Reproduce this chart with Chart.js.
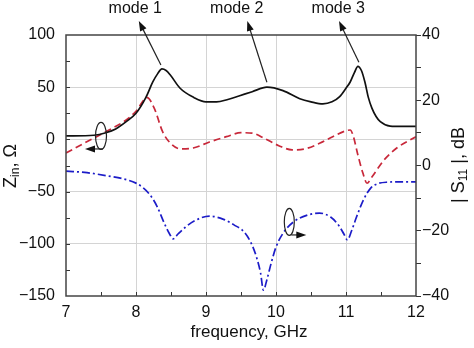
<!DOCTYPE html>
<html>
<head>
<meta charset="utf-8">
<script src="https://cdn.jsdelivr.net/npm/chart.js@4.4.0/dist/chart.umd.min.js"></script>
<style>
html, body { margin: 0; padding: 0; background: #fff; }
</style>
</head>
<body>
<canvas id="myChart" width="474" height="348"></canvas>
<script>
// |Zin| (left axis, Ohm)
const zinFreq = [7.0, 7.4, 7.57, 7.71, 7.86, 8.0, 8.14, 8.24, 8.31, 8.37, 8.43, 8.49, 8.63, 8.83, 9.0, 9.15, 9.3, 9.47, 9.66, 9.87, 10.1, 10.34, 10.5, 10.67, 10.8, 10.91, 11.0, 11.06, 11.12, 11.17, 11.22, 11.27, 11.32, 11.37, 11.43, 11.49, 11.63, 11.8, 12.0];
const zinAbs = [3.3, 4, 6.4, 10, 17, 25, 40, 55, 63, 67.5, 66, 61.7, 49, 40, 36, 36, 38, 41.6, 45.7, 50, 46.7, 39, 36, 34, 36, 41, 49, 55, 64, 70, 66, 55, 40, 30, 22, 17, 12.8, 12.5, 12.5];

// second Zin curve (red dashed, left axis)
const reFreq = [7.0, 7.29, 7.57, 7.86, 8.0, 8.16, 8.26, 8.38, 8.49, 8.63, 8.83, 9.05, 9.29, 9.5, 9.66, 9.85, 10.04, 10.23, 10.42, 10.63, 10.81, 11.0, 11.06, 11.1, 11.17, 11.24, 11.3, 11.37, 11.54, 11.73, 12.0];
const zinRe = [-13, -2.5, 7.4, 18.6, 27, 40, 30, 7.4, -3.5, -9, -8, -2.5, 2.6, 6.4, 6, 0.4, -6, -10, -9, -3.5, 2.6, 8.3, 9, 4, -15, -32, -42, -36, -20, -8, 2.6];

// |S11| (right axis, dB)
const sFreq = [7.0, 7.3, 7.6, 7.8, 8.0, 8.1, 8.2, 8.3, 8.4, 8.48, 8.53, 8.6, 8.7, 8.85, 9.05, 9.25, 9.4, 9.55, 9.65, 9.72, 9.78, 9.82, 9.87, 9.93, 10.0, 10.1, 10.25, 10.45, 10.62, 10.78, 10.9, 10.97, 11.02, 11.08, 11.15, 11.25, 11.35, 11.45, 11.6, 11.8, 12.0];
const s11 = [-1.7, -2.2, -3.2, -4.0, -5.4, -6.8, -9, -12.5, -17.5, -21, -22.5, -21, -19, -16.8, -15.5, -16.5, -18.2, -20.5, -24, -28, -33, -38.2, -35, -30, -25, -20.8, -17.3, -15.2, -14.6, -15.8, -18.5, -21, -22.8, -20, -15.8, -10.5, -7, -5.6, -5.1, -5, -5];

const modeNames = ['mode 1', 'mode 2', 'mode 3'];
const modeFreq = [8.37, 9.87, 11.17];

const pts = (xs, ys) => xs.map((x, i) => ({ x: x, y: ys[i] }));
const minus = (v) => String(v).replace('-', '\u2212');

Chart.defaults.font.family = '"Liberation Sans", Arial, sans-serif';
Chart.defaults.font.size = 16;
Chart.defaults.color = '#111';

function arrow(ctx, x1, y1, x2, y2) {
    const a = Math.atan2(y2 - y1, x2 - x1);
    ctx.beginPath();
    ctx.moveTo(x1, y1);
    ctx.lineTo(x2 - 6 * Math.cos(a), y2 - 6 * Math.sin(a));
    ctx.stroke();
    ctx.beginPath();
    ctx.moveTo(x2, y2);
    ctx.lineTo(x2 - 10 * Math.cos(a) + 3.5 * Math.sin(a), y2 - 10 * Math.sin(a) - 3.5 * Math.cos(a));
    ctx.lineTo(x2 - 10 * Math.cos(a) - 3.5 * Math.sin(a), y2 - 10 * Math.sin(a) + 3.5 * Math.cos(a));
    ctx.closePath();
    ctx.fill();
}

// rotated axis title with subscripts
function richText(ctx, parts, cx, cy) {
    ctx.save();
    ctx.translate(cx, cy);
    ctx.rotate(-Math.PI / 2);
    ctx.textBaseline = 'middle';
    ctx.textAlign = 'left';
    let w = 0;
    parts.forEach(p => {
        ctx.font = (p.sub ? 12 : 18) + 'px "Liberation Sans", Arial, sans-serif';
        w += ctx.measureText(p.t).width;
    });
    let x = -w / 2;
    parts.forEach(p => {
        ctx.font = (p.sub ? 12 : 18) + 'px "Liberation Sans", Arial, sans-serif';
        ctx.fillText(p.t, x, p.sub ? 5 : 0);
        x += ctx.measureText(p.t).width;
    });
    ctx.restore();
}

const decor = {
    id: 'decor',
    afterDatasetsDraw(chart) {
        const ctx = chart.ctx;
        const a = chart.chartArea;
        const xs = chart.scales.x, yl = chart.scales.y, yr = chart.scales.y2;
        ctx.save();
        // inner ticks
        ctx.strokeStyle = '#333';
        ctx.lineWidth = 1;
        for (let v = 7.5; v < 12; v += 0.5) {
            const px = Math.round(xs.getPixelForValue(v)) + 0.5;
            ctx.beginPath(); ctx.moveTo(px, a.bottom); ctx.lineTo(px, a.bottom - 4); ctx.stroke();
        }
        for (let v = -125; v < 100; v += 25) {
            const py = Math.round(yl.getPixelForValue(v)) + 0.5;
            ctx.beginPath(); ctx.moveTo(a.left, py); ctx.lineTo(a.left + 4, py); ctx.stroke();
        }
        // frame
        ctx.strokeStyle = '#444';
        ctx.lineWidth = 1.5;
        ctx.strokeRect(a.left, a.top, a.right - a.left, a.bottom - a.top);

        // mode labels and arrows
        ctx.fillStyle = '#111';
        ctx.strokeStyle = '#222';
        ctx.lineWidth = 1.2;
        ctx.font = '16px "Liberation Sans", Arial, sans-serif';
        ctx.textAlign = 'center';
        ctx.textBaseline = 'middle';
        const textX = [7.99, 9.44, 10.89];
        const tipX = [8.04, 9.59, 10.9];
        const tailOff = [[-1, -4], [0, -5], [1, -4]];
        modeNames.forEach((m, i) => {
            ctx.fillText(m, xs.getPixelForValue(textX[i]), 9);
            const idx = zinFreq.indexOf(modeFreq[i]);
            const tx = xs.getPixelForValue(modeFreq[i]) + tailOff[i][0];
            const ty = yl.getPixelForValue(zinAbs[idx]) + tailOff[i][1];
            arrow(ctx, tx, ty, xs.getPixelForValue(tipX[i]), 21);
        });

        // ellipse markers
        ctx.lineWidth = 1.2;
        let ex = xs.getPixelForValue(7.5), ey = yl.getPixelForValue(3.3);
        ctx.beginPath(); ctx.ellipse(ex, ey, 5.5, 13.5, 0, 0, Math.PI * 2); ctx.stroke();
        arrow(ctx, ex + 2, ey + 13, ex - 16, ey + 13);
        ex = xs.getPixelForValue(10.19); ey = yr.getPixelForValue(-17.3);
        ctx.beginPath(); ctx.ellipse(ex, ey, 5, 13.5, 0, 0, Math.PI * 2); ctx.stroke();
        arrow(ctx, ex + 2, ey + 13, ex + 17, ey + 13);

        // axis titles
        richText(ctx, [{ t: 'Z' }, { t: 'in', sub: true }, { t: ', \u03A9' }], 11, 166);
        richText(ctx, [{ t: '| S' }, { t: '11', sub: true }, { t: ' |, dB' }], 459, 165);
        ctx.font = '17px "Liberation Sans", Arial, sans-serif';
        ctx.textAlign = 'center';
        ctx.textBaseline = 'middle';
        ctx.fillText('frequency, GHz', (a.left + a.right) / 2 + 8, 332);
        ctx.restore();
    }
};

const ctx = document.getElementById('myChart');
new Chart(ctx, {
    type: 'line',
    data: {
        datasets: [{
            label: '|Zin|',
            data: pts(zinFreq, zinAbs),
            yAxisID: 'y',
            borderColor: '#111',
            borderWidth: 1.7,
            order: 1
        }, {
            label: 'Zin',
            data: pts(reFreq, zinRe),
            yAxisID: 'y',
            borderColor: '#c8283a',
            borderWidth: 1.7,
            borderDash: [7, 4],
            order: 2
        }, {
            label: '|S11|',
            data: pts(sFreq, s11),
            yAxisID: 'y2',
            borderColor: '#1c1cc8',
            borderWidth: 1.7,
            borderDash: [8, 3, 2, 3],
            order: 3
        }]
    },
    options: {
        responsive: false,
        devicePixelRatio: 1,
        animation: false,
        layout: { padding: { top: 35, left: 0, right: 0, bottom: 0 } },
        elements: {
            point: { radius: 0 },
            line: { cubicInterpolationMode: 'monotone', fill: false }
        },
        plugins: { legend: { display: false }, tooltip: { enabled: false } },
        scales: {
            x: {
                type: 'linear',
                min: 7,
                max: 12,
                ticks: { stepSize: 1, padding: 7, color: '#111' },
                grid: {
                    drawTicks: false,
                    color: (c) => (c.tick && c.tick.value > 7 && c.tick.value < 12) ? '#d4d4d4' : 'rgba(0,0,0,0)'
                },
                border: { display: false },
                afterFit: (s) => { s.height = 52; }
            },
            y: {
                position: 'left',
                min: -150,
                max: 100,
                ticks: { stepSize: 50, padding: 11, color: '#111', callback: (v) => minus(v) },
                grid: {
                    drawTicks: false,
                    color: (c) => (c.tick && c.tick.value > -150 && c.tick.value < 100) ? '#d4d4d4' : 'rgba(0,0,0,0)'
                },
                border: { display: false },
                afterFit: (s) => { s.width = 66; }
            },
            y2: {
                position: 'right',
                min: -40,
                max: 40,
                ticks: { stepSize: 10, padding: 1, color: '#111', callback: (v) => (v % 20 === 0 ? minus(v) : '') },
                grid: { drawOnChartArea: false, drawTicks: true, tickLength: 5, color: '#333' },
                border: { display: false },
                afterFit: (s) => { s.width = 58; }
            }
        }
    },
    plugins: [decor]
});
</script>
</body>
</html>
